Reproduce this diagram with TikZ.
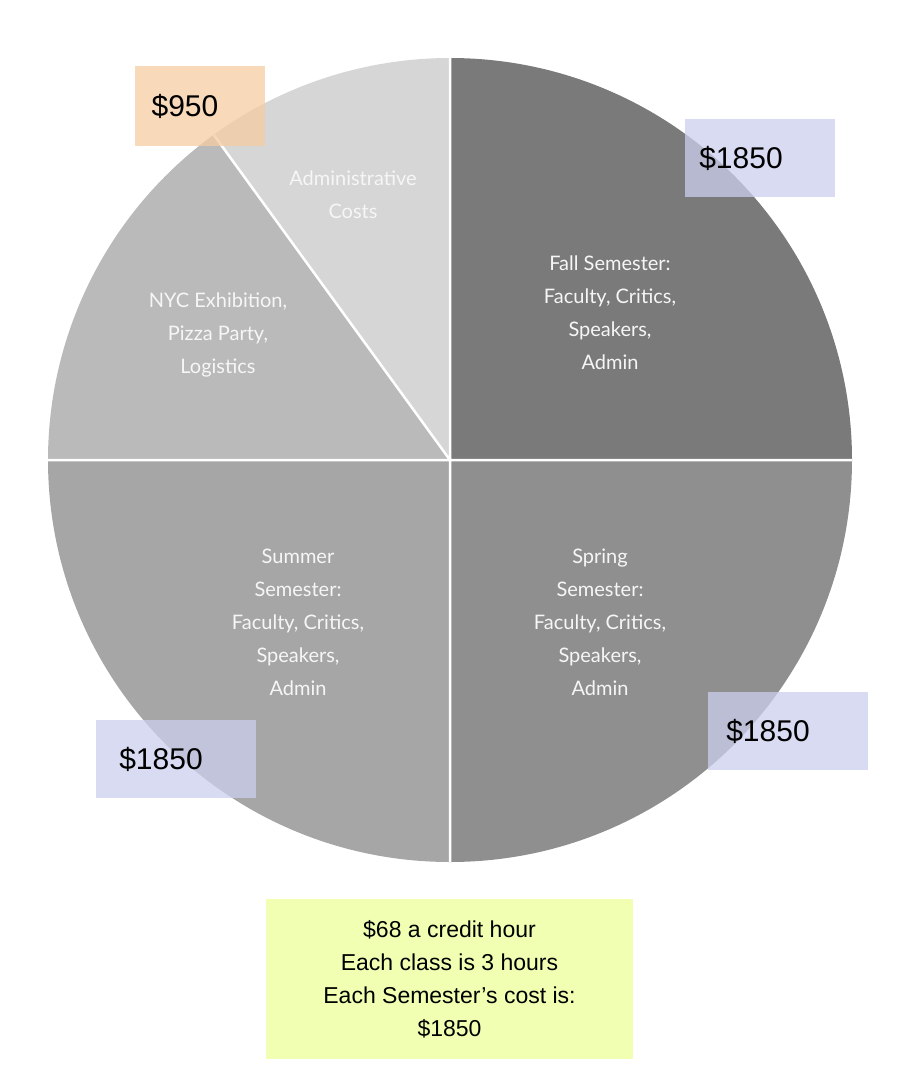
\documentclass[tikz,border=0pt]{standalone}
\usepackage{fontspec}
\setmainfont{Liberation Sans}
\newfontfamily\pief{Lato}
\begin{document}
\begin{tikzpicture}[x=1pt,y=-1pt,
  slice/.style={draw=white,line width=2.5pt},
  plab/.style={text=white!93!gray,align=center,font=\pief\fontsize{20}{33}\selectfont},
  tag/.style={minimum width=150pt,minimum height=78pt,font=\fontsize{30}{34}\selectfont,inner sep=0pt},
  bluebox/.style={tag,fill=cyan!30!blue!20,fill opacity=0.75,text opacity=1},
]
\useasboundingbox (0,0) rectangle (910,1079);
\coordinate (c) at (450,460);
\def\R{402}
\fill[fill=white!48!black] (c) -- ++(0,-\R) arc[start angle=-90,end angle=0,radius=\R] -- cycle;
\fill[fill=white!56!black] (c) -- ++(\R,0) arc[start angle=0,end angle=90,radius=\R] -- cycle;
\fill[fill=white!65!black] (c) -- ++(0,\R) arc[start angle=90,end angle=180,radius=\R] -- cycle;
\fill[fill=white!73!black] (c) -- ++(-\R,0) arc[start angle=180,end angle=234,radius=\R] -- cycle;
\fill[fill=white!84!black] (c) -- ++(234:\R) arc[start angle=234,end angle=270,radius=\R] -- cycle;
\draw[slice] (c) -- ++(0,-\R) (c) -- ++(0,\R) (c) -- ++(-\R,0) (c) -- ++(\R,0) (c) -- ++(234:\R);
\node[plab] (adm) at (353,195) {Administrative\\Costs};
\node[plab] (fall) at (610,313) {Fall Semester:\\Faculty, Critics,\\Speakers,\\Admin};
\node[plab] (nyc) at (218,335) {NYC Exhibition,\\Pizza Party,\\Logistics};
\node[plab] (sum) at (298,622) {Summer\\Semester:\\Faculty, Critics,\\Speakers,\\Admin};
\node[plab] (spr) at (600,622) {Spring\\Semester:\\Faculty, Critics,\\Speakers,\\Admin};
\node[tag,minimum width=130pt,minimum height=80pt,fill=orange!60!brown!40,fill opacity=0.75,text opacity=1] (t950) at (200,106) {\$950\hspace*{30pt}};
\node[bluebox] (t1) at (760,158) {\hspace*{-38pt}\$1850};
\node[bluebox,minimum width=160pt] (t2) at (788,731) {\hspace*{-40pt}\$1850};
\node[bluebox,minimum width=160pt] (t3) at (176,759) {\hspace*{-30pt}\$1850};
\node[fill=green!30!yellow!25!white!92!black,fill=green!20!yellow!30,minimum width=367pt,minimum height=160pt,align=center,font=\fontsize{23}{33}\selectfont] (note) at (449.5,979) {\$68 a credit hour\\Each class is 3 hours\\Each Semester’s cost is:\\\$1850};
\end{tikzpicture}
\end{document}
